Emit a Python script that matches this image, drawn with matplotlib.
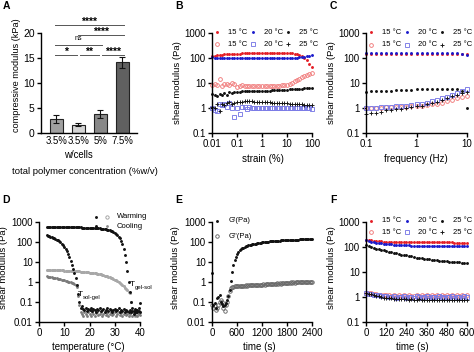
import matplotlib.pyplot as plt
from matplotlib.lines import Line2D
from matplotlib.ticker import NullLocator

plt.rcParams['font.family'] = ['Liberation Sans', 'DejaVu Sans']

# ---- A: compressive modulus ----
a_labels = ['3.5%', '3.5%', '5%', '7.5%']
a_sublabels = ['', 'w/cells', '', '']
a_means = [2.8, 1.7, 3.9, 14.2]
a_errs = [0.75, 0.3, 0.8, 1.1]
a_colors = ['#a0a0a0', '#d4d4d4', '#888888', '#606060']

# ---- B: strain sweep ----
b_strain = [0.01, 0.0126, 0.0158, 0.02, 0.0251, 0.0316, 0.0398, 0.0501, 0.0631, 0.0794,
            0.1, 0.126, 0.158, 0.2, 0.251, 0.316, 0.398, 0.501, 0.631, 0.794,
            1, 1.26, 1.58, 2, 2.51, 3.16, 3.98, 5.01, 6.31, 7.94,
            10, 12.6, 15.8, 20, 25.1, 31.6, 39.8, 50.1, 63.1, 79.4, 100]
b_g1_15 = [118, 125, 130, 135, 138, 140, 142, 145, 146, 148,
           150, 151, 152, 152, 153, 153, 154, 154, 154, 155,
           155, 155, 155, 155, 155, 155, 155, 155, 155, 155,
           155, 155, 154, 150, 145, 135, 120, 100, 80, 60, 45]
b_g1_20 = [105, 101, 100, 100, 99, 100, 100, 99, 100, 100,
           100, 99, 100, 100, 99, 100, 100, 99, 100, 100,
           100, 99, 100, 100, 99, 100, 100, 99, 100, 100,
           100, 100, 100, 100, 102, 105, 108, 112, 118, 125, 132]
b_g1_25 = [3.5, 3.2, 3.0, 3.8, 3.3, 4.0, 3.4, 4.2, 3.9, 4.3,
           4.4, 4.5, 4.6, 4.6, 4.7, 4.7, 4.8, 4.8, 4.8, 4.9,
           4.9, 5.0, 5.0, 5.0, 5.1, 5.1, 5.2, 5.2, 5.3, 5.3,
           5.4, 5.5, 5.6, 5.7, 5.8, 5.9, 6.0, 6.2, 6.3, 6.5, 6.6]
b_g2_15 = [8, 9, 8.5, 14, 7.5, 9, 9.5, 8.5, 10, 9,
           7, 7.5, 8, 7.8, 7.5, 7.7, 7.6, 7.6, 7.5, 7.6,
           7.6, 7.6, 7.7, 7.7, 7.7, 7.8, 7.8, 7.9, 8.0, 8.2,
           8.5, 9.0, 10, 11.5, 13, 15, 17, 19, 20.5, 22, 24]
b_g2_20 = [1.0, 0.8, 0.75, 1.5, 1.3, 1.5, 1.1, 1.6, 1.0, 0.45,
           1.0, 0.55, 1.05, 1.1, 0.95, 1.05, 1.0, 1.0, 1.0, 1.0,
           1.0, 1.0, 1.0, 1.0, 1.0, 1.0, 1.0, 1.0, 1.0, 1.0,
           1.0, 1.0, 1.0, 1.0, 1.0, 1.0, 1.0, 0.98, 0.97, 0.96, 0.95]
b_g2_25 = [1.1, 1.0, 1.4, 0.75, 1.5, 1.3, 1.6, 1.7, 1.5, 1.6,
           1.7, 1.75, 1.8, 1.85, 1.9, 1.9, 1.85, 1.8, 1.8, 1.75,
           1.75, 1.7, 1.7, 1.7, 1.65, 1.65, 1.6, 1.6, 1.6, 1.55,
           1.55, 1.5, 1.5, 1.45, 1.45, 1.4, 1.4, 1.35, 1.35, 1.3, 1.3]

# ---- C: frequency sweep ----
c_freq = [0.1, 0.126, 0.158, 0.2, 0.251, 0.316, 0.398, 0.501, 0.631, 0.794,
          1.0, 1.26, 1.58, 2.0, 2.51, 3.16, 3.98, 5.01, 6.31, 7.94, 10]
c_g1_15 = [148, 147, 148, 147, 148, 147, 147, 148, 147, 147,
           147, 146, 147, 146, 146, 146, 145, 145, 145, 148, 150]
c_g1_20 = [162, 162, 161, 162, 161, 161, 162, 161, 161, 160,
           161, 160, 160, 160, 159, 159, 158, 157, 155, 150, 128]
c_g1_25 = [4.5, 4.6, 4.7, 4.8, 4.9, 5.0, 5.1, 5.2, 5.3, 5.4,
           5.5, 5.6, 5.7, 5.8, 5.8, 5.9, 5.9, 5.8, 5.6, 5.0, 1.0]
c_g2_15 = [1.0, 1.0, 1.0, 1.02, 1.05, 1.05, 1.07, 1.1, 1.12, 1.15,
           1.2, 1.25, 1.3, 1.4, 1.5, 1.65, 1.85, 2.1, 2.4, 2.7, 3.0]
c_g2_20 = [1.0, 1.0, 1.02, 1.05, 1.08, 1.1, 1.15, 1.2, 1.25, 1.3,
           1.4, 1.5, 1.65, 1.85, 2.1, 2.4, 2.8, 3.3, 3.9, 4.6, 5.5]
c_g2_25 = [0.6, 0.63, 0.66, 0.7, 0.8, 0.85, 0.9, 0.95, 1.0, 1.05,
           1.15, 1.25, 1.4, 1.6, 1.8, 2.1, 2.5, 2.9, 3.4, 3.9, 4.4]

# ---- D: temperature sweep ----
d_temp = [3, 3.5, 4, 4.5, 5, 5.5, 6, 6.5, 7, 7.5, 8, 8.5, 9, 9.5, 10, 10.5, 11, 11.5, 12,
          12.5, 13, 13.5, 14, 14.5, 15, 15.5, 16, 16.5, 17, 17.5, 18, 18.5, 19, 19.5, 20,
          20.5, 21, 21.5, 22, 22.5, 23, 23.5, 24, 24.5, 25, 25.5, 26, 26.5, 27, 27.5, 28,
          28.5, 29, 29.5, 30, 30.5, 31, 31.5, 32, 32.5, 33, 33.5, 34, 34.5, 35, 35.5,
          36, 36.5, 37, 37.5, 38, 38.5, 39, 39.5, 40]
d_warm_g1 = [560, 560, 558, 558, 556, 556, 555, 555, 554, 553, 552, 551, 550, 549, 548, 547, 546, 545, 544,
             543, 542, 541, 540, 538, 536, 535, 533, 531, 529, 527, 525, 522, 519, 516, 513,
             510, 506, 502, 498, 493, 488, 482, 476, 469, 461, 452, 442, 430, 416, 400, 381, 360, 336, 310,
             280, 248, 215, 182, 150, 115, 80, 45, 23, 10, 3.5, 1.0,
             0.3, 0.1, 0.05, 0.035, 0.045, 0.03, 0.04, 0.05, 0.09]
d_warm_g2 = [4.1, 4.1, 4.05, 4.05, 4.0, 4.0, 3.95, 3.95, 3.9, 3.9, 3.85, 3.85, 3.8, 3.8, 3.75, 3.7, 3.7, 3.65, 3.6,
             3.6, 3.55, 3.5, 3.5, 3.45, 3.4, 3.4, 3.35, 3.3, 3.25, 3.2, 3.15, 3.1, 3.05, 3.0, 2.95,
             2.9, 2.85, 2.8, 2.75, 2.7, 2.6, 2.55, 2.5, 2.4, 2.3, 2.2, 2.1, 2.0, 1.9, 1.8, 1.7, 1.6, 1.5, 1.4,
             1.3, 1.2, 1.1, 1.0, 0.9, 0.8, 0.7, 0.6, 0.5, 0.45, 0.38, 0.32,
             0.28, 0.1, 0.03, 0.025, 0.02, 0.03, 0.022, 0.025, 0.03]
d_cool_g1 = [215, 205, 195, 185, 175, 165, 155, 145, 133, 120, 108, 95, 82, 70, 58, 47, 36, 26, 17,
             11, 7, 4.5, 2.8, 1.6, 0.7, 0.25, 0.1, 0.05, 0.06, 0.045, 0.04, 0.05, 0.035, 0.045, 0.04,
             0.05, 0.035, 0.045, 0.04, 0.03, 0.045, 0.04, 0.05, 0.035, 0.04, 0.045, 0.03, 0.04, 0.05, 0.035, 0.045, 0.04, 0.03, 0.04,
             0.045, 0.035, 0.04, 0.05, 0.03, 0.04, 0.035, 0.045, 0.03, 0.04, 0.035, 0.03,
             0.04, 0.03, 0.035, 0.025, 0.03, 0.04, 0.03, 0.035, 0.03]
d_cool_g2 = [1.9, 1.85, 1.8, 1.75, 1.7, 1.65, 1.6, 1.55, 1.5, 1.45, 1.4, 1.35, 1.3, 1.25, 1.2, 1.15, 1.1, 1.05, 1.0,
             0.95, 0.9, 0.85, 0.8, 0.7, 0.55, 0.2, 0.07, 0.03, 0.025, 0.02, 0.03, 0.025, 0.02, 0.03, 0.025,
             0.02, 0.03, 0.025, 0.02, 0.028, 0.03, 0.022, 0.025, 0.03, 0.02, 0.025, 0.03, 0.022, 0.028, 0.02, 0.025, 0.03, 0.022, 0.025,
             0.03, 0.02, 0.025, 0.03, 0.022, 0.028, 0.02, 0.025, 0.03, 0.022, 0.025, 0.02,
             0.025, 0.03, 0.02, 0.025, 0.022, 0.03, 0.02, 0.025, 0.022]

# ---- E: time sweep at gelation ----
e_time = [0, 30, 60, 90, 120, 150, 180, 210, 240, 270, 300, 330, 360, 390, 420, 450, 480, 510, 540, 570, 600,
          630, 660, 690, 720, 750, 780, 810, 840, 870, 900, 930, 960, 990, 1020, 1050, 1080, 1110, 1140, 1170, 1200,
          1230, 1260, 1290, 1320, 1350, 1380, 1410, 1440, 1470, 1500, 1530, 1560, 1590, 1620, 1650, 1680, 1710, 1740, 1770, 1800,
          1830, 1860, 1890, 1920, 1950, 1980, 2010, 2040, 2070, 2100, 2130, 2160, 2190, 2220, 2250, 2280, 2310, 2340, 2370, 2400]
e_g1 = [2.8, 0.07, 0.09, 0.05, 0.15, 0.18, 0.22, 0.1, 0.08, 0.06, 0.07, 0.09, 0.12, 0.2, 0.4, 1.1, 3.0, 7, 12, 18, 25,
        32, 38, 43, 48, 52, 56, 60, 64, 67, 70, 73, 76, 79, 82, 84, 86, 89, 91, 93, 95,
        97, 99, 101, 102, 104, 106, 107, 109, 110, 112, 113, 115, 116, 117, 119, 120, 121, 122, 123, 124,
        125, 126, 127, 128, 129, 130, 131, 132, 133, 134, 135, 136, 137, 138, 139, 140, 141, 142, 143, 144]
e_g2 = [0.07, 0.05, 0.06, 0.04, 0.05, 0.07, 0.1, 0.12, 0.1, 0.05, 0.035, 0.07, 0.1, 0.2, 0.35, 0.5, 0.55, 0.57, 0.6, 0.6, 0.62,
        0.63, 0.62, 0.65, 0.64, 0.66, 0.65, 0.67, 0.66, 0.68, 0.67, 0.69, 0.7, 0.68, 0.71, 0.7, 0.72, 0.71, 0.73, 0.72, 0.74,
        0.75, 0.74, 0.76, 0.78, 0.76, 0.79, 0.8, 0.78, 0.82, 0.8, 0.83, 0.85, 0.82, 0.86, 0.84, 0.88, 0.86, 0.9, 0.88, 0.92,
        0.9, 0.93, 0.95, 0.92, 0.96, 0.94, 0.98, 0.95, 1.0, 0.97, 1.02, 0.98, 1.0, 1.04, 0.99, 1.03, 1.0, 1.05, 1.01, 1.03]

# ---- F: time sweep at 15/20/25 C ----
f_time = [0, 15, 30, 45, 60, 75, 90, 105, 120, 135, 150, 165, 180, 195, 210, 225, 240, 255, 270, 285, 300,
          315, 330, 345, 360, 375, 390, 405, 420, 435, 450, 465, 480, 495, 510, 525, 540, 555, 570, 585, 600]
f_g1_15 = [196, 188, 182, 177, 173, 170, 167, 165, 163, 161, 160, 159, 158, 157, 157, 156, 156, 155, 155, 155, 154,
           154, 154, 154, 153, 153, 153, 153, 153, 152, 152, 152, 152, 152, 152, 151, 151, 151, 151, 151, 151]
f_g1_20 = [190, 175, 165, 157, 150, 145, 140, 136, 132, 129, 126, 124, 122, 120, 118, 117, 116, 115, 114, 113, 112,
           111, 111, 110, 110, 109, 109, 108, 108, 108, 107, 107, 107, 107, 106, 106, 106, 106, 106, 105, 105]
f_g1_25 = [116, 106, 98, 91, 86, 81, 77, 73, 69, 65, 62, 59, 56, 53, 50, 48, 46, 44, 42, 40, 38,
           36.5, 35, 34, 33, 32, 31, 30, 29, 28.5, 28, 27, 26.5, 26, 25.5, 25, 24.5, 24, 23.6, 23.3, 23]
f_g2_15 = [1.5, 1.45, 1.4, 1.35, 1.3, 1.25, 1.2, 1.2, 1.15, 1.15, 1.1, 1.15, 1.1, 1.2, 1.1, 1.15, 1.05, 1.2, 1.1, 1.1, 1.2,
           1.05, 1.15, 1.1, 1.2, 1.1, 1.15, 1.05, 1.2, 1.1, 1.15, 1.1, 1.2, 1.05, 1.15, 1.1, 1.2, 1.1, 1.15, 1.1, 1.2]
f_g2_20 = [1.4, 1.35, 1.3, 1.25, 1.2, 1.15, 1.1, 1.05, 1.05, 1.0, 1.0, 1.05, 0.95, 1.0, 1.0, 1.05, 0.95, 1.0, 1.0, 0.95, 1.05,
           1.0, 0.95, 1.0, 1.05, 0.95, 1.0, 1.0, 0.95, 1.05, 1.0, 0.95, 1.0, 1.0, 1.05, 0.95, 1.0, 1.0, 0.95, 1.05, 1.0]
f_g2_25 = [1.45, 1.35, 1.28, 1.2, 1.12, 1.05, 1.0, 0.95, 0.92, 0.9, 0.88, 0.85, 0.85, 0.82, 0.8, 0.82, 0.8, 0.78, 0.8, 0.78, 0.76,
           0.8, 0.77, 0.75, 0.78, 0.76, 0.74, 0.77, 0.75, 0.73, 0.76, 0.74, 0.75, 0.73, 0.76, 0.74, 0.75, 0.73, 0.75, 0.74, 0.73]

RED, BLUE, BLACK = '#e41e26', '#1a1acc', '#111111'
PINK, LILAC = '#f07a7a', '#7a7ae6'

W, H = 474, 352
fig = plt.figure(figsize=(W / 100, H / 100), dpi=100)


def box(l, t, r, b):
    return fig.add_axes([l / W, 1 - b / H, (r - l) / W, (b - t) / H])


def ftext(x, y, s, **kw):
    kw.setdefault('ha', 'center')
    kw.setdefault('va', 'center')
    fig.text(x / W, 1 - y / H, s, **kw)


def fmark(x, y, **kw):
    fig.add_artist(Line2D([x / W], [1 - y / H], linestyle='none', **kw))


def style(ax):
    ax.spines['top'].set_visible(False)
    ax.spines['right'].set_visible(False)
    ax.spines['left'].set_linewidth(1.0)
    ax.spines['bottom'].set_linewidth(1.0)
    ax.tick_params(direction='out', length=3, width=1, labelsize=7, pad=1.5)
    ax.xaxis.set_minor_locator(NullLocator())
    ax.yaxis.set_minor_locator(NullLocator())


def logy(ax, lo, hi, ticks, labels):
    ax.set_yscale('log')
    ax.set_ylim(lo, hi)
    ax.set_yticks(ticks)
    ax.set_yticklabels(labels)
    ax.yaxis.set_minor_locator(NullLocator())


g1 = dict(linestyle='none', marker='o', ms=2.1, mew=0, clip_on=False)
g2_red = dict(linestyle='none', marker='o', ms=2.7, mfc='none', mec=PINK, mew=0.65, clip_on=False)
g2_blue = dict(linestyle='none', marker='s', ms=2.4, mfc='none', mec=LILAC, mew=0.65, clip_on=False)
g2_black = dict(linestyle='none', marker='+', ms=2.4, color=BLACK, mew=0.65, clip_on=False)


def temp_legend(x0, y1, y2):
    cols = [(x0, RED, '15 °C'), (x0 + 36, BLUE, '20 °C'), (x0 + 71, BLACK, '25 °C')]
    for x, c, s in cols:
        fmark(x, y1, marker='o', ms=2.1, mew=0, color=c)
        ftext(x + 11, y1, s, fontsize=5.5, ha='left')
    fmark(x0, y2, marker='o', ms=2.7, mfc='none', mec=PINK, mew=0.65)
    fmark(x0 + 36, y2, marker='s', ms=2.4, mfc='none', mec=LILAC, mew=0.65)
    fmark(x0 + 71, y2, marker='+', ms=2.4, color=BLACK, mew=0.65)
    for x, c, s in cols:
        ftext(x + 11, y2, s, fontsize=5.5, ha='left')


# ---------------- A ----------------
ax = box(41, 8, 137, 133)
style(ax)
xa = list(range(len(a_means)))
ax.bar(xa, a_means, width=0.57, color=a_colors, edgecolor='#222222', linewidth=0.8)
ax.errorbar(xa, a_means, yerr=a_errs, fmt='none', ecolor='#111111', elinewidth=0.8, capsize=2.2, capthick=0.8)
ax.set_xlim(-0.7, 3.66)
ax.set_ylim(0, 25)
ax.spines['left'].set_bounds(0, 20)
ax.set_yticks([0, 5, 10, 15, 20])
ax.set_xticks(xa)
ax.set_xticklabels(a_labels, fontsize=6.9, va='top')
ax.tick_params(axis='x', length=0, pad=2.5)
ax.tick_params(axis='y', labelsize=7.5)
for xi, s in zip(xa, a_sublabels):
    if s:
        ax.annotate(s, (xi, 0), xytext=(0, -12.5), textcoords='offset points',
                    fontsize=6.9, ha='center', va='top', annotation_clip=False)
sig = [(-0.05, 3.05, 21.6, '****'), (1.0, 3.05, 19.6, '****'), (-0.05, 2.05, 17.6, 'ns'),
       (-0.05, 0.95, 15.6, '*'), (1.05, 1.95, 15.6, '**'), (2.05, 3.05, 15.6, '****')]
for x1, x2, yv, s in sig:
    ax.plot([x1, x2], [yv, yv], color='#555555', lw=0.7, clip_on=False)
    if s == 'ns':
        ax.text((x1 + x2) / 2, yv + 0.7, s, fontsize=5, ha='center', va='bottom')
    else:
        ax.text((x1 + x2) / 2, yv - 0.3, s, fontsize=7.5, fontweight='bold', ha='center', va='bottom')
ftext(17, 75, 'compressive modulus (kPa)', fontsize=6.6, rotation=90)
ftext(85, 171, 'total polymer concentration (%w/v)', fontsize=6.8)
ftext(6, 6, 'A', fontsize=7.5, fontweight='bold')

# ---------------- B ----------------
ax = box(212, 33, 312, 133)
style(ax)
ax.set_xscale('log')
ax.set_xlim(0.01, 100)
ax.set_xticks([0.01, 0.1, 1, 10, 100])
ax.set_xticklabels(['0.01', '0.1', '1', '10', '100'])
ax.xaxis.set_minor_locator(NullLocator())
logy(ax, 0.1, 1000, [0.1, 1, 10, 100, 1000], ['0.1', '1', '10', '100', '1000'])
ax.plot(b_strain, b_g1_15, color=RED, **g1)
ax.plot(b_strain, b_g1_20, color=BLUE, **g1)
ax.plot(b_strain, b_g1_25, color=BLACK, **g1)
ax.plot(b_strain, b_g2_15, **g2_red)
ax.plot(b_strain, b_g2_20, **g2_blue)
ax.plot(b_strain, b_g2_25, **g2_black)
temp_legend(217, 32, 44)
ftext(177, 83, 'shear modulus (Pa)', fontsize=6.8, rotation=90)
ftext(263, 159, 'strain (%)', fontsize=7)
ftext(179, 6, 'B', fontsize=7.5, fontweight='bold')

# ---------------- C ----------------
ax = box(366, 33, 467, 133)
style(ax)
ax.set_xscale('log')
ax.set_xlim(0.1, 10)
ax.set_xticks([0.1, 1, 10])
ax.set_xticklabels(['0.1', '1', '10'])
ax.xaxis.set_minor_locator(NullLocator())
logy(ax, 0.1, 1000, [0.1, 1, 10, 100, 1000], ['0.1', '1', '10', '100', '1000'])
ax.plot(c_freq, c_g1_15, color=RED, **g1)
ax.plot(c_freq, c_g1_20, color=BLUE, **g1)
ax.plot(c_freq, c_g1_25, color=BLACK, **g1)
ax.plot(c_freq, c_g2_15, **g2_red)
ax.plot(c_freq, c_g2_20, **g2_blue)
ax.plot(c_freq, c_g2_25, **g2_black)
temp_legend(371, 32, 45)
ftext(332, 83, 'shear modulus (Pa)', fontsize=6.8, rotation=90)
ftext(416, 159, 'frequency (Hz)', fontsize=7)
ftext(333, 6, 'C', fontsize=7.5, fontweight='bold')

# ---------------- D ----------------
ax = box(39, 222, 140, 322)
style(ax)
ax.set_xlim(0, 40)
ax.set_xticks([0, 10, 20, 30, 40])
logy(ax, 0.01, 1000, [0.01, 0.1, 1, 10, 100, 1000], ['0.01', '0.1', '1', '10', '100', '1000'])
ax.plot(d_temp, d_warm_g2, linestyle='none', marker='o', ms=2.2, mew=0, color='#a8a8a8', clip_on=False)
ax.plot(d_temp, d_cool_g2, linestyle='none', marker='o', ms=2.0, mew=0, color='#7a7a7a', clip_on=False)
ax.plot(d_temp, d_warm_g1, color=BLACK, **g1)
ax.plot(d_temp, d_cool_g1, color=BLACK, **g1)
fmark(96, 217, marker='o', ms=2.1, mew=0, color=BLACK)
fmark(107, 217, marker='o', ms=2.4, mfc='none', mec='#a0a0a0', mew=0.65)
ftext(117, 217, 'Warming', fontsize=5.5, ha='left')
fmark(96, 226, marker='o', ms=2.1, mew=0, color=BLACK)
fmark(107, 226, marker='o', ms=2.0, mew=0, color='#8a8a8a')
ftext(117, 226, 'Cooling', fontsize=5.5, ha='left')
ftext(130, 284, 'T', fontsize=6, ha='left')
ftext(134.5, 287, 'gel-sol', fontsize=4.3, ha='left')
ftext(78, 294, 'T', fontsize=6, ha='left')
ftext(82.5, 297, 'sol-gel', fontsize=4.3, ha='left')
ftext(4, 268, 'shear modulus (Pa)', fontsize=6.8, rotation=90)
ftext(88, 347, 'temperature (°C)', fontsize=7)
ftext(6, 200, 'D', fontsize=7.5, fontweight='bold')

# ---------------- E ----------------
ax = box(212, 222, 312, 322)
style(ax)
ax.set_xlim(0, 2400)
ax.set_xticks([0, 600, 1200, 1800, 2400])
logy(ax, 0.01, 1000, [0.01, 0.1, 1, 10, 100, 1000], ['0.01', '0.1', '1', '10', '100', '1000'])
ax.plot(e_time, e_g2, linestyle='none', marker='o', ms=2.5, mfc='none', mec='#666666', mew=0.65, clip_on=False)
ax.plot(e_time, e_g1, color=BLACK, **g1)
fmark(217, 221, marker='o', ms=2.1, mew=0, color=BLACK)
ftext(229, 221, "G'(Pa)", fontsize=5.5, ha='left')
fmark(217, 236, marker='o', ms=2.5, mfc='none', mec='#666666', mew=0.65)
ftext(229, 236, 'G"(Pa)', fontsize=5.5, ha='left')
ftext(175, 268, 'shear modulus (Pa)', fontsize=6.8, rotation=90)
ftext(259, 347, 'time (s)', fontsize=7)
ftext(179, 200, 'E', fontsize=7.5, fontweight='bold')

# ---------------- F ----------------
ax = box(366, 222, 467, 322)
style(ax)
ax.set_xlim(0, 600)
ax.set_xticks([0, 120, 240, 360, 480, 600])
logy(ax, 0.1, 1000, [0.1, 1, 10, 100, 1000], ['0.1', '1', '10', '100', '1000'])
ax.plot(f_time, f_g1_15, color=RED, **g1)
ax.plot(f_time, f_g1_20, color=BLUE, **g1)
ax.plot(f_time, f_g1_25, color=BLACK, **g1)
ax.plot(f_time, f_g2_15, **g2_red)
ax.plot(f_time, f_g2_20, **g2_blue)
ax.plot(f_time, f_g2_25, **g2_black)
temp_legend(371, 221, 232)
ftext(332, 268, 'shear modulus (Pa)', fontsize=6.8, rotation=90)
ftext(412, 347, 'time (s)', fontsize=7)
ftext(333, 200, 'F', fontsize=7.5, fontweight='bold')

fig.savefig('out.png', dpi=100)
